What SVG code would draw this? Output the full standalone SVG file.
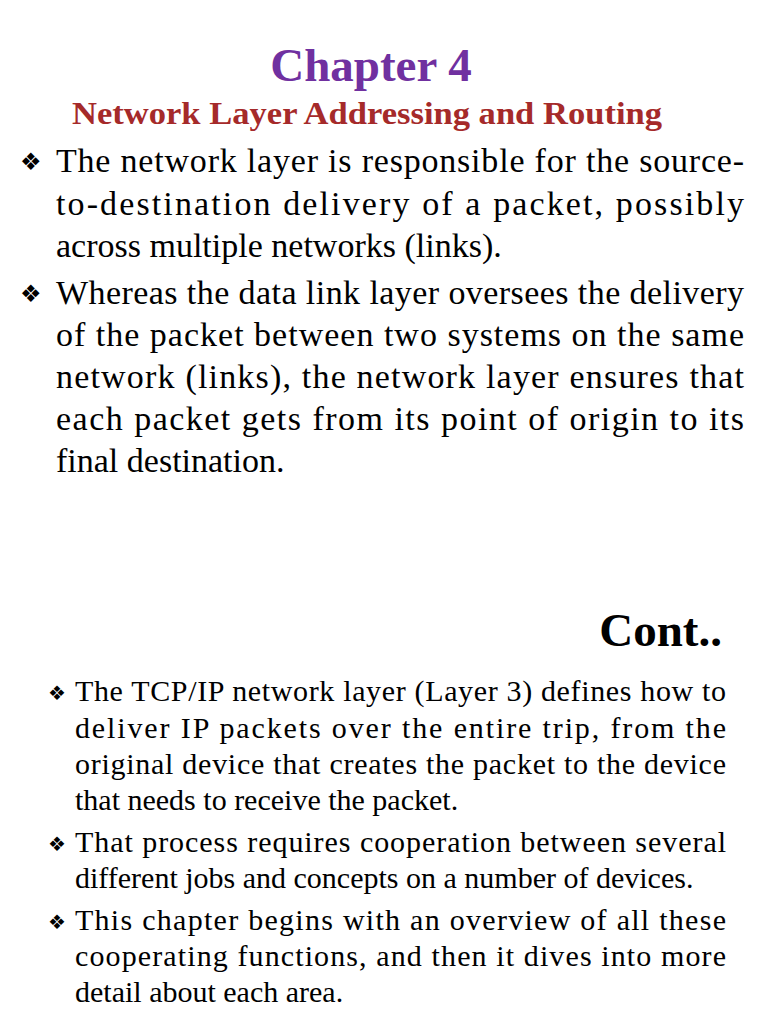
<svg xmlns="http://www.w3.org/2000/svg" width="768" height="1024" viewBox="0 0 768 1024">
<style>
.t{font-family:"Liberation Serif",serif;fill:#000}
.a{font-size:34px}
.b{font-size:30px}
.d{font-family:"DejaVu Sans",sans-serif;fill:#000}
</style>
<rect width="768" height="1024" fill="#fff"/>
<text x="371" y="81" text-anchor="middle" font-family="Liberation Serif,serif" font-weight="bold" font-size="47" fill="#7030A0">Chapter 4</text>
<text x="72" y="124" font-family="Liberation Serif,serif" font-weight="bold" font-size="31" fill="#A52A2A" textLength="590" lengthAdjust="spacingAndGlyphs">Network Layer Addressing and Routing</text>
<g class="t a">
<text class="d" x="20" y="170" font-size="24">❖</text>
<text x="56" y="172" textLength="688" lengthAdjust="spacing">The network layer is responsible for the source-</text>
<text x="56" y="215" textLength="688" lengthAdjust="spacing">to-destination delivery of a packet, possibly</text>
<text x="56" y="257">across multiple networks (links).</text>
<text class="d" x="20" y="302" font-size="24">❖</text>
<text x="56" y="304" textLength="688" lengthAdjust="spacing">Whereas the data link layer oversees the delivery</text>
<text x="56" y="346" textLength="688" lengthAdjust="spacing">of the packet between two systems on the same</text>
<text x="56" y="388" textLength="688" lengthAdjust="spacing">network (links), the network layer ensures that</text>
<text x="56" y="430" textLength="688" lengthAdjust="spacing">each packet gets from its point of origin to its</text>
<text x="56" y="472">final destination.</text>
</g>
<text x="722" y="646" text-anchor="end" font-family="Liberation Serif,serif" font-weight="bold" font-size="47">Cont..</text>
<g class="t b">
<text class="d" x="48" y="700" font-size="20">❖</text>
<text x="75" y="701" textLength="651" lengthAdjust="spacing">The TCP/IP network layer (Layer 3) defines how to</text>
<text x="75" y="738" textLength="651" lengthAdjust="spacing">deliver IP packets over the entire trip, from the</text>
<text x="75" y="774" textLength="651" lengthAdjust="spacing">original device that creates the packet to the device</text>
<text x="75" y="810">that needs to receive the packet.</text>
<text class="d" x="48" y="851" font-size="20">❖</text>
<text x="75" y="852" textLength="651" lengthAdjust="spacing">That process requires cooperation between several</text>
<text x="75" y="888">different jobs and concepts on a number of devices.</text>
<text class="d" x="48" y="929" font-size="20">❖</text>
<text x="75" y="930" textLength="651" lengthAdjust="spacing">This chapter begins with an overview of all these</text>
<text x="75" y="966" textLength="651" lengthAdjust="spacing">cooperating functions, and then it dives into more</text>
<text x="75" y="1002">detail about each area.</text>
</g>
</svg>
